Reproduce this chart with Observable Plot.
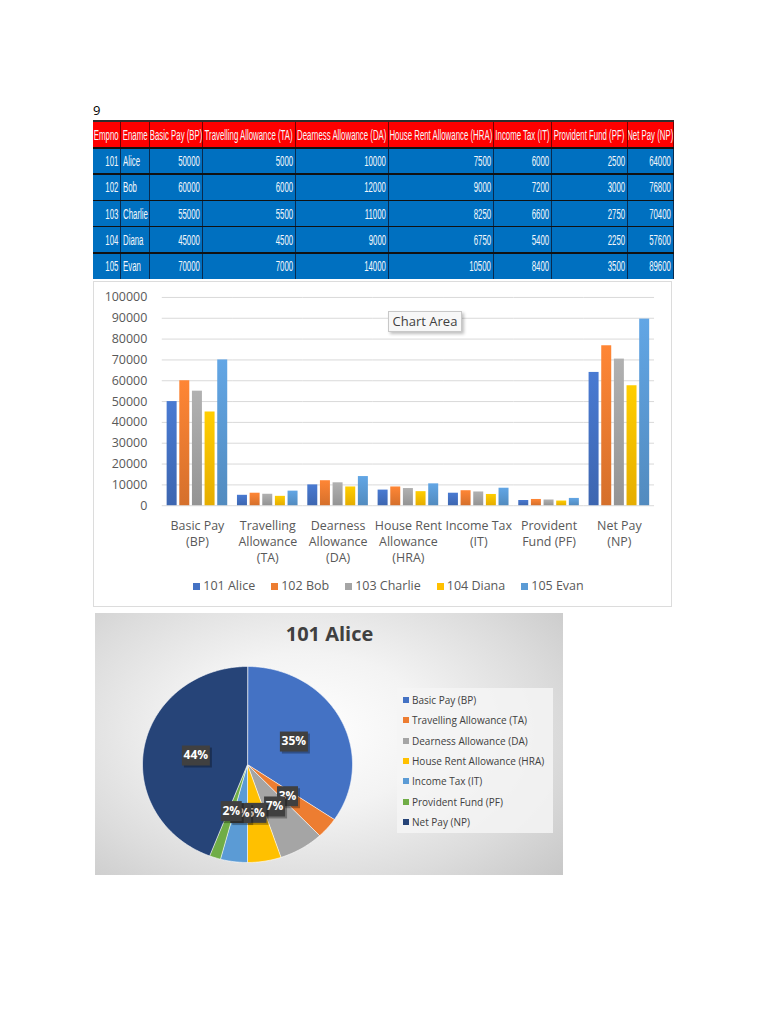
<!DOCTYPE html>
<html>
<head>
<meta charset="utf-8">
<script src="https://cdn.jsdelivr.net/npm/d3@7"></script>
<script src="https://cdn.jsdelivr.net/npm/@observablehq/plot@0.6"></script>
<style>
html, body { margin: 0; padding: 0; background: #fff; }
body { width: 768px; height: 1024px; position: relative; overflow: hidden; font-family: "Open Sans", sans-serif; }
#pagenum { position: absolute; left: 93px; top: 103px; font: 13px/14px "Open Sans", sans-serif; color: #000; }
#tbl { position: absolute; left: 93px; top: 120px; }
#tbl .cell { position: absolute; overflow: hidden; display: flex; align-items: center; box-sizing: border-box; }
#tbl .cell span { flex-shrink: 0; white-space: nowrap; font: 14px "Liberation Sans", Arial, sans-serif; color: #f4f7fb; transform: scaleX(0.56); display: inline-block; }
#barbox { position: absolute; left: 93px; top: 281px; width: 579px; height: 326px; box-sizing: border-box; border: 1px solid #dcdcdc; background: #fff; }
#barbox svg { position: absolute; left: -1px; top: -1px; }
#barlegend { position: absolute; left: 0; top: 296px; width: 579px; display: flex; justify-content: center; gap: 16px; padding-left: 10px; box-sizing: border-box; font: 12.5px/16px "Open Sans", sans-serif; color: #595959; }
#barlegend .item { display: flex; align-items: center; white-space: nowrap; }
#barlegend .sw { width: 7px; height: 7px; margin-right: 3px; }
#tooltip { position: absolute; left: 388px; top: 311px; width: 74px; height: 21px; box-sizing: border-box; background: #f7f7f7; border: 1px solid #c8c8c8; box-shadow: 2px 2px 3px rgba(0,0,0,0.25); font: 13px/19px "Open Sans", sans-serif; color: #404040; text-align: center; }
#piebox { position: absolute; left: 95px; top: 613px; width: 468px; height: 262px; overflow: hidden;
  background: radial-gradient(ellipse 75% 85% at 45% 45%, #ffffff 0%, #f3f3f3 35%, #dcdcdc 70%, #c6c6c6 100%); }
#piebox svg { position: absolute; left: 0; top: 0; }
#pielegend { position: absolute; left: 302px; top: 75px; width: 156px; height: 145px; background: rgba(244,244,244,0.85); }
#pielegend .item { position: absolute; left: 6px; display: flex; align-items: center; font: 10px/12px "Open Sans", sans-serif; color: #404040; white-space: nowrap; }
#pielegend .sw { width: 6px; height: 6px; margin-right: 3px; }
</style>
</head>
<body>
<div id="pagenum">9</div>
<div id="tbl"></div>
<div id="barbox"><div id="barlegend"></div></div>
<div id="tooltip">Chart Area</div>
<div id="piebox"><div id="pielegend"></div></div>
<script>
// ---------------- data ----------------
const empno = [101, 102, 103, 104, 105];
const ename = ["Alice", "Bob", "Charlie", "Diana", "Evan"];
const headers = ["Empno", "Ename", "Basic Pay (BP)", "Travelling Allowance (TA)", "Dearness Allowance (DA)",
  "House Rent Allowance (HRA)", "Income Tax (IT)", "Provident Fund (PF)", "Net Pay (NP)"];
const basicPay = [50000, 60000, 55000, 45000, 70000];
const travelling = [5000, 6000, 5500, 4500, 7000];
const dearness = [10000, 12000, 11000, 9000, 14000];
const houseRent = [7500, 9000, 8250, 6750, 10500];
const incomeTax = [6000, 7200, 6600, 5400, 8400];
const providentFund = [2500, 3000, 2750, 2250, 3500];
const netPay = [64000, 76800, 70400, 57600, 89600];
const categories = headers.slice(2);
const categoryLabels = ["Basic Pay\n(BP)", "Travelling\nAllowance\n(TA)", "Dearness\nAllowance\n(DA)",
  "House Rent\nAllowance\n(HRA)", "Income Tax\n(IT)", "Provident\nFund (PF)", "Net Pay\n(NP)"];
const yTicks = [0, 10000, 20000, 30000, 40000, 50000, 60000, 70000, 80000, 90000, 100000];
const seriesColors = ["#4472C4", "#ED7D31", "#A5A5A5", "#FFC000", "#5B9BD5"];
const pieColors = ["#4472C4", "#ED7D31", "#A5A5A5", "#FFC000", "#5B9BD5", "#70AD47", "#264478"];
const pieTitle = "101 Alice";

const valueTable = [basicPay, travelling, dearness, houseRent, incomeTax, providentFund, netPay];
const seriesNames = empno.map((n, i) => `${n} ${ename[i]}`);

// ---------------- table ----------------
const colW = [28, 29, 53, 93, 93, 105, 58, 76, 46];
const colX = colW.reduce((a, w) => (a.push(a[a.length - 1] + w), a), [0]);
const tbl = d3.select("#tbl");
const totalW = colX[colX.length - 1];
tbl.append("div").attr("class", "cell").style("left", "0px").style("top", "0px")
  .style("width", totalW + "px").style("height", "2px").style("background", "#2e2e2e");
const headerTop = 2, headerH = 26, rowTop = 28, rowH = 26.3;
headers.forEach((h, j) => {
  const c = tbl.append("div").attr("class", "cell")
    .style("left", colX[j] + "px").style("top", headerTop + "px")
    .style("width", colW[j] + "px").style("height", headerH + "px")
    .style("background", "#ff0000")
    .style("border-right", "1px solid rgba(60,0,0,0.7)")
    .style("justify-content", "center");
  c.append("span").style("transform-origin", "center").text(h);
});
const rows = empno.map((n, i) => [n, ename[i], ...valueTable.map(v => v[i])]);
rows.forEach((r, i) => {
  const top = rowTop + i * rowH;
  tbl.append("div").attr("class", "cell").style("left", "0px").style("top", (top - 1) + "px")
    .style("width", totalW + "px").style("height", "1.6px").style("background", "#111").style("z-index", 2);
  r.forEach((v, j) => {
    const left = j === 1;
    const c = tbl.append("div").attr("class", "cell")
      .style("left", colX[j] + "px").style("top", top + "px")
      .style("width", colW[j] + "px").style("height", rowH + "px")
      .style("background", "#0070C0")
      .style("border-right", "1px solid rgba(10,30,60,0.85)")
      .style("justify-content", left ? "flex-start" : "flex-end")
      .style("padding", left ? "0 0 0 2px" : "0 2px 0 0");
    c.append("span").style("transform-origin", left ? "left center" : "right center").text(v);
  });
});

// ---------------- bar chart ----------------
const barData = categories.flatMap((c, ci) =>
  seriesNames.map((s, si) => ({category: c, series: s, value: valueTable[ci][si]})));

const bar = Plot.plot({
  width: 579,
  height: 290,
  marginLeft: 69,
  marginRight: 16,
  marginTop: 16,
  marginBottom: 65,
  style: {fontFamily: "Open Sans, sans-serif", fontSize: "12.5px", color: "#595959", background: "transparent", overflow: "visible"},
  fx: {domain: categories, padding: 0, round: false, label: null},
  x: {domain: seriesNames, paddingInner: 0.21, paddingOuter: 0.385, round: false, axis: null},
  y: {domain: [0, 100000], axis: null},
  color: {domain: seriesNames, range: seriesNames.map((_, i) => `url(#barGrad${i})`)},
  marks: [
    Plot.gridY({ticks: yTicks, stroke: "#d9d9d9", strokeOpacity: 1}),
    Plot.axisY({ticks: yTicks, tickSize: 0, tickPadding: 15, tickFormat: d => String(d), label: null, fill: "#595959", fontSize: 12.5}),
    Plot.axisFx({anchor: "bottom", tickSize: 0, tickPadding: 13, lineHeight: 1.28, fontSize: 12.5, fill: "#595959", label: null,
      tickFormat: c => categoryLabels[categories.indexOf(c)]}),
    Plot.barY(barData, {fx: "category", x: "series", y: "value", fill: "series"})
  ]
});
{
  const svg = bar.tagName.toLowerCase() === "svg" ? bar : bar.querySelector("svg");
  const defs = d3.select(svg).insert("defs", ":first-child");
  seriesColors.forEach((c, i) => {
    const g = defs.append("linearGradient").attr("id", `barGrad${i}`)
      .attr("x1", 0).attr("y1", 0).attr("x2", 0).attr("y2", 1);
    g.append("stop").attr("offset", 0).attr("stop-color", d3.color(c).brighter(0.2).formatHex());
    g.append("stop").attr("offset", 1).attr("stop-color", d3.color(c).darker(0.3).formatHex());
  });
}
document.getElementById("barbox").prepend(bar);

const bl = d3.select("#barlegend");
seriesNames.forEach((s, i) => {
  const it = bl.append("div").attr("class", "item");
  it.append("div").attr("class", "sw").style("background", seriesColors[i]);
  it.append("span").text(s);
});

// ---------------- pie chart ----------------
const aliceValues = valueTable.map(v => v[0]);
const total = d3.sum(aliceValues);
// largest-remainder rounding of percentages (as Excel data labels show)
const raw = aliceValues.map(v => v / total * 100);
const pct = raw.map(Math.floor);
let rem = 100 - d3.sum(pct);
d3.range(raw.length).sort((a, b) => (raw[b] - Math.floor(raw[b])) - (raw[a] - Math.floor(raw[a])))
  .slice(0, rem).forEach(i => pct[i]++);

const arcs = d3.pie().sort(null).value(d => d)(aliceValues);
const piePts = [];
arcs.forEach((a, i) => {
  const cat = categories[i];
  piePts.push({cat, x: 0, y: 0});
  const n = Math.max(2, Math.ceil((a.endAngle - a.startAngle) / 0.01));
  for (let k = 0; k <= n; ++k) {
    const t = a.startAngle + (a.endAngle - a.startAngle) * k / n;
    piePts.push({cat, x: Math.sin(t), y: Math.cos(t)});
  }
});
const labels = arcs.map((a, i) => {
  const m = (a.startAngle + a.endAngle) / 2;
  return {cat: categories[i], x: 0.5 * Math.sin(m), y: 0.5 * Math.cos(m), text: pct[i] + "%"};
});
const boxSymbol = (w, h) => ({draw(ctx) { ctx.rect(-w / 2, -h / 2, w, h); }});
const labelMarks = labels.flatMap(l => {
  const w = 7 * l.text.length + 7;
  return [
    Plot.dot([l], {x: "x", y: "y", symbol: boxSymbol(w, 20), fill: "#000", fillOpacity: 0.3, stroke: "none", dx: 2, dy: 2}),
    Plot.dot([l], {x: "x", y: "y", symbol: boxSymbol(w, 20), fill: "#404040", stroke: "none"}),
    Plot.text([l], {x: "x", y: "y", text: "text", fill: "#fff", fontWeight: "bold", fontSize: 12, fontFamily: "Open Sans, sans-serif"})
  ];
});

const pie = Plot.plot({
  width: 468,
  height: 262,
  margin: 0,
  style: {background: "transparent", overflow: "visible"},
  x: {domain: [-1, 1], range: [47, 257], axis: null},
  y: {domain: [-1, 1], range: [249, 53], axis: null},
  color: {domain: categories, range: pieColors},
  marks: [
    Plot.line(piePts, {x: "x", y: "y", z: "cat", fill: "cat", stroke: "#fff", strokeWidth: 0.6, curve: "linear-closed"}),
    ...labelMarks,
    Plot.text([pieTitle], {frameAnchor: "top", text: d => d, dy: 21, lineAnchor: "middle", fontSize: 20, fontWeight: "bold", fill: "#404040", fontFamily: "Open Sans, sans-serif"})
  ]
});
document.getElementById("piebox").prepend(pie);

const pl = d3.select("#pielegend");
categories.forEach((c, i) => {
  const it = pl.append("div").attr("class", "item").style("top", (6 + i * 20.3) + "px");
  it.append("div").attr("class", "sw").style("background", pieColors[i]);
  it.append("span").text(c);
});
</script>
</body>
</html>
